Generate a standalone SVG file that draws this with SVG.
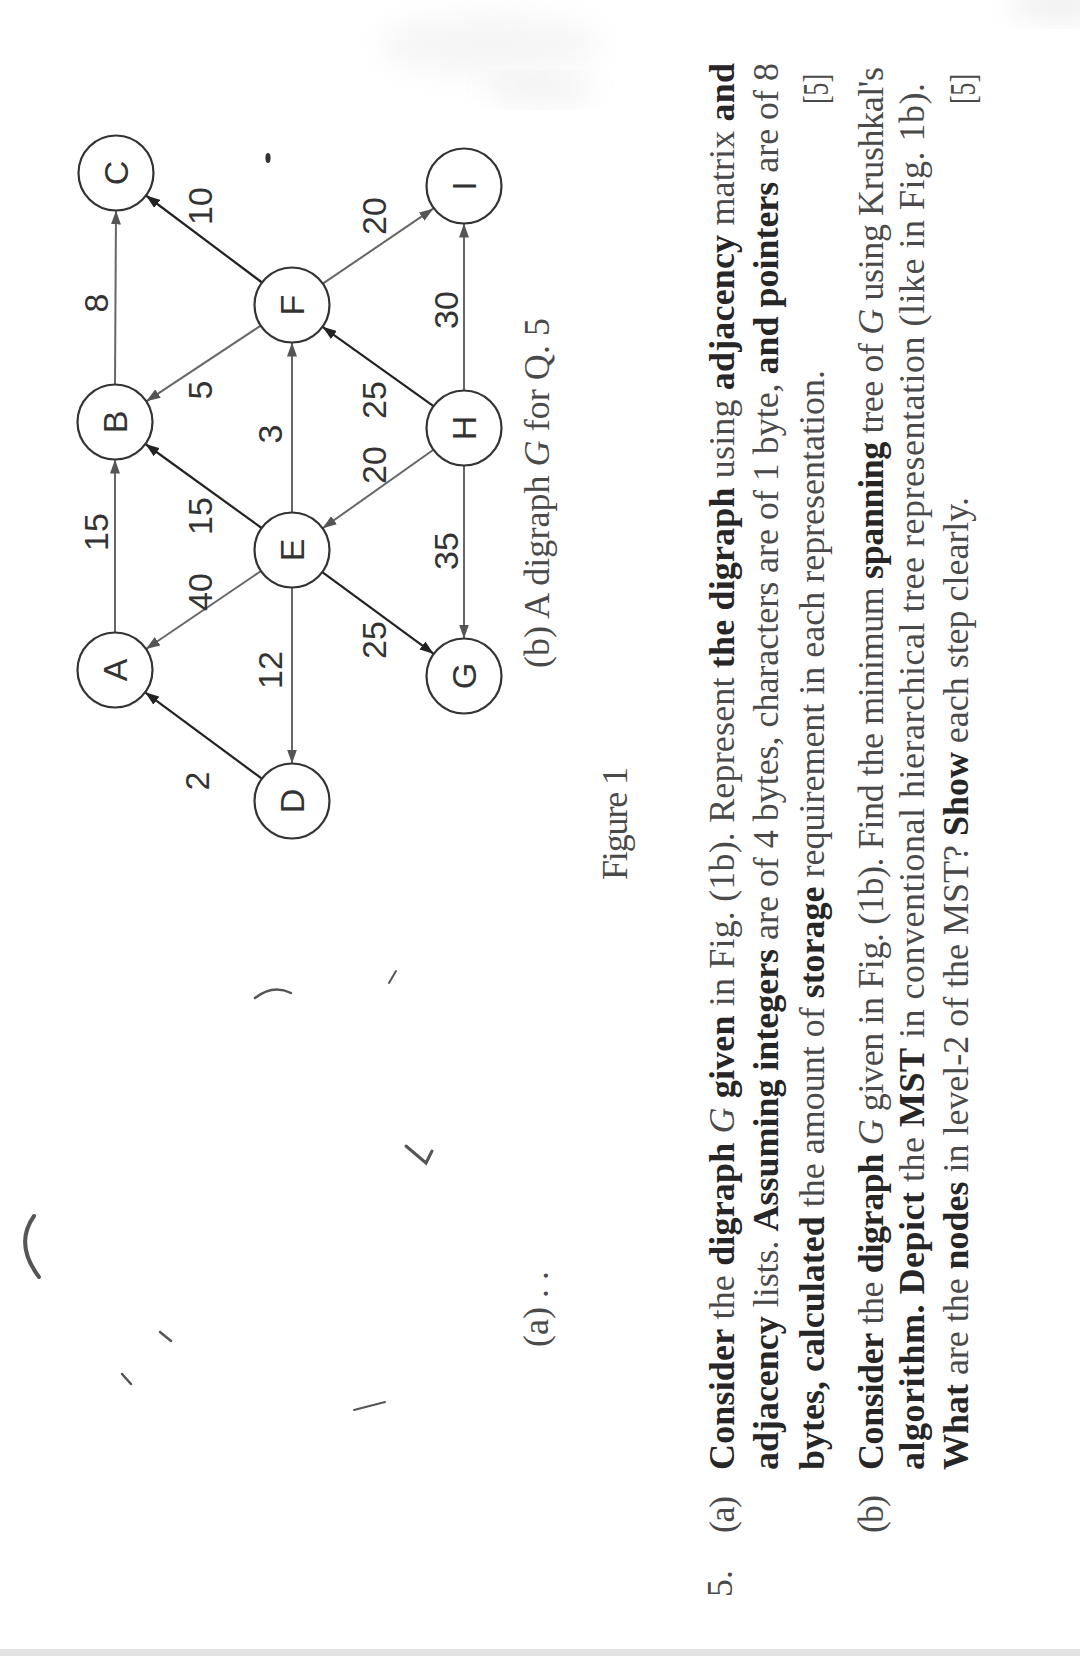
<svg xmlns="http://www.w3.org/2000/svg" width="1080" height="1656" viewBox="0 0 1080 1656">
<style>
.node circle{fill:none;stroke:#333;stroke-width:2.2}
.node text,.lbl{font-family:"Liberation Sans",Arial,sans-serif;font-size:34px;fill:#333;text-anchor:middle}
.e{stroke:#666;stroke-width:2;fill:none;marker-end:url(#ahg)}
.ed{stroke:#222;stroke-width:2.2;fill:none;marker-end:url(#ahd)}
.body{font-family:"Liberation Serif","Times New Roman",serif;font-size:36px;fill:#4a4a4a}
.b{font-weight:bold;fill:#262626}
.i{font-style:italic}
.mark{fill:none;stroke:#555;stroke-linecap:round}
</style>
<defs>
<marker id="ahg" viewBox="0 0 14 10" markerWidth="14" markerHeight="10" refX="14" refY="5" orient="auto" markerUnits="userSpaceOnUse"><path d="M0,0 L14,5 L0,10 Z" fill="#555"/></marker>
<marker id="ahd" viewBox="0 0 14 10" markerWidth="14" markerHeight="10" refX="14" refY="5" orient="auto" markerUnits="userSpaceOnUse"><path d="M0,0 L14,5 L0,10 Z" fill="#222"/></marker>
<filter id="blur" x="-50%" y="-50%" width="200%" height="200%"><feGaussianBlur stdDeviation="14"/></filter>
</defs>
<rect width="1080" height="1656" fill="#fff"/>
<g id="photo-smudges">
<ellipse cx="490" cy="45" rx="110" ry="30" fill="#ccc" opacity="0.18" filter="url(#blur)"/>
<ellipse cx="540" cy="90" rx="55" ry="10" fill="#aaa" opacity="0.2" filter="url(#blur)"/>
<ellipse cx="1060" cy="5" rx="50" ry="12" fill="#bbb" opacity="0.3" filter="url(#blur)"/>
<rect x="0" y="1649" width="1080" height="7" fill="#e2e2e2"/>
</g>
<g id="connectors">
<line class="e" x1="115" y1="632.5" x2="115" y2="459.5"/>
<line class="e" x1="115" y1="384.5" x2="116" y2="210.5"/>
<line class="ed" x1="262" y1="282.5" x2="146" y2="195.5"/>
<line class="e" x1="260.7" y1="325.7" x2="146.3" y2="401.3"/>
<line class="ed" x1="261.6" y1="528" x2="145.4" y2="444"/>
<line class="e" x1="261" y1="571" x2="146" y2="649"/>
<line class="e" x1="292" y1="512.5" x2="292" y2="342.5"/>
<line class="e" x1="292" y1="587.5" x2="292" y2="763.5"/>
<line class="ed" x1="261.9" y1="778.7" x2="145.1" y2="692.3"/>
<line class="ed" x1="322.3" y1="572.2" x2="433.7" y2="653.8"/>
<line class="e" x1="433.4" y1="449.7" x2="322.6" y2="528.3"/>
<line class="ed" x1="433.5" y1="406.2" x2="322.5" y2="326.8"/>
<line class="e" x1="464" y1="390.5" x2="464" y2="223.5"/>
<line class="e" x1="464" y1="465.5" x2="464" y2="638.5"/>
<line class="e" x1="322.8" y1="283.7" x2="433.2" y2="208.7"/>
</g>
<g id="edge-labels">
<text class="lbl" transform="translate(96,532) rotate(-90)" dy="0.36em">15</text>
<text class="lbl" transform="translate(96,303) rotate(-90)" dy="0.36em">8</text>
<text class="lbl" transform="translate(200,206) rotate(-90)" dy="0.36em">10</text>
<text class="lbl" transform="translate(200,390) rotate(-90)" dy="0.36em">5</text>
<text class="lbl" transform="translate(200,516) rotate(-90)" dy="0.36em">15</text>
<text class="lbl" transform="translate(200,592) rotate(-90)" dy="0.36em">40</text>
<text class="lbl" transform="translate(197,781) rotate(-90)" dy="0.36em">2</text>
<text class="lbl" transform="translate(270,434) rotate(-90)" dy="0.36em">3</text>
<text class="lbl" transform="translate(270,670) rotate(-90)" dy="0.36em">12</text>
<text class="lbl" transform="translate(374,216) rotate(-90)" dy="0.36em">20</text>
<text class="lbl" transform="translate(374,400) rotate(-90)" dy="0.36em">25</text>
<text class="lbl" transform="translate(374,465) rotate(-90)" dy="0.36em">20</text>
<text class="lbl" transform="translate(374,640) rotate(-90)" dy="0.36em">25</text>
<text class="lbl" transform="translate(446,310) rotate(-90)" dy="0.36em">30</text>
<text class="lbl" transform="translate(446,551) rotate(-90)" dy="0.36em">35</text>
</g>
<g id="node-A" class="node"><circle cx="115" cy="670" r="37.5"/><text transform="translate(115,670) rotate(-90)" dy="0.36em">A</text></g>
<g id="node-B" class="node"><circle cx="115" cy="422" r="37.5"/><text transform="translate(115,422) rotate(-90)" dy="0.36em">B</text></g>
<g id="node-C" class="node"><circle cx="116" cy="173" r="37.5"/><text transform="translate(116,173) rotate(-90)" dy="0.36em">C</text></g>
<g id="node-D" class="node"><circle cx="292" cy="801" r="37.5"/><text transform="translate(292,801) rotate(-90)" dy="0.36em">D</text></g>
<g id="node-E" class="node"><circle cx="292" cy="550" r="37.5"/><text transform="translate(292,550) rotate(-90)" dy="0.36em">E</text></g>
<g id="node-F" class="node"><circle cx="292" cy="305" r="37.5"/><text transform="translate(292,305) rotate(-90)" dy="0.36em">F</text></g>
<g id="node-G" class="node"><circle cx="464" cy="676" r="37.5"/><text transform="translate(464,676) rotate(-90)" dy="0.36em">G</text></g>
<g id="node-H" class="node"><circle cx="464" cy="428" r="37.5"/><text transform="translate(464,428) rotate(-90)" dy="0.36em">H</text></g>
<g id="node-I" class="node"><circle cx="464" cy="186" r="37.5"/><text transform="translate(464,186) rotate(-90)" dy="0.36em">I</text></g>
<g id="captions">
<text class="body" font-size="34" transform="translate(549,668) rotate(-90)" textLength="350">(b) A digraph <tspan class="i">G</tspan> for Q. 5</text>
<text class="body" font-size="34" transform="translate(627,880) rotate(-90)" textLength="113">Figure 1</text>
<text class="body" font-size="28" fill="#555" transform="translate(548,1347) rotate(-90)" textLength="76">(a) . .</text>
</g>
<g id="question">
<text class="body" transform="translate(732,1597) rotate(-90)">5.</text>
<text class="body" transform="translate(734,1533) rotate(-90)" textLength="37">(a)</text>
<text class="body" transform="translate(734,1470) rotate(-90)" textLength="1407"><tspan class="b">Consider</tspan> the <tspan class="b">digraph</tspan> <tspan class="i">G</tspan> <tspan class="b">given</tspan> in Fig. (1b). Represent <tspan class="b">the digraph</tspan> using <tspan class="b">adjacency</tspan> matrix <tspan class="b">and</tspan></text>
<text class="body" transform="translate(778,1470) rotate(-90)" textLength="1407"><tspan class="b">adjacency</tspan> lists. <tspan class="b">Assuming integers</tspan> are of 4 bytes, characters are of 1 byte, <tspan class="b">and pointers</tspan> are of 8</text>
<text class="body" transform="translate(824,1470) rotate(-90)" textLength="1100"><tspan class="b">bytes, calculated</tspan> the amount of <tspan class="b">storage</tspan> requirement in each representation.</text>
<text class="body" transform="translate(828,104) rotate(-90)" textLength="30" lengthAdjust="spacingAndGlyphs">[5]</text>
<text class="body" transform="translate(883,1533) rotate(-90)" textLength="38">(b)</text>
<text class="body" transform="translate(883,1470) rotate(-90)" textLength="1403"><tspan class="b">Consider</tspan> the <tspan class="b">digraph</tspan> <tspan class="i">G</tspan> given in Fig. (1b). Find the minimum <tspan class="b">spanning</tspan> tree of <tspan class="i">G</tspan> using Krushkal's</text>
<text class="body" transform="translate(924,1470) rotate(-90)" textLength="1387"><tspan class="b">algorithm. Depict</tspan> the <tspan class="b">MST</tspan> in conventional hierarchical tree representation (like in Fig. 1b).</text>
<text class="body" transform="translate(968,1470) rotate(-90)" textLength="973"><tspan class="b">What</tspan> are the <tspan class="b">nodes</tspan> in level-2 of the MST? <tspan class="b">Show</tspan> each step clearly.</text>
<text class="body" transform="translate(975,104) rotate(-90)" textLength="30" lengthAdjust="spacingAndGlyphs">[5]</text>
</g>
<g id="stray-marks">
<path class="mark" stroke-width="4" d="M34,1216 Q14,1244 39,1277"/>
<path class="mark" stroke-width="2.5" d="M160,1332 L171,1341"/>
<path class="mark" stroke-width="2.5" d="M122,1374 L131,1384"/>
<path class="mark" stroke-width="2" d="M354,1410 L385,1402"/>
<path class="mark" stroke-width="2.5" d="M255,998 Q273,984 291,993"/>
<path class="mark" stroke-width="2" d="M389,983 L396,971"/>
<path class="mark" stroke-width="3" d="M406,1146 L426,1163 L432,1151"/>
<ellipse cx="268" cy="158" rx="2.6" ry="5" fill="#333"/>
</g>
</svg>
